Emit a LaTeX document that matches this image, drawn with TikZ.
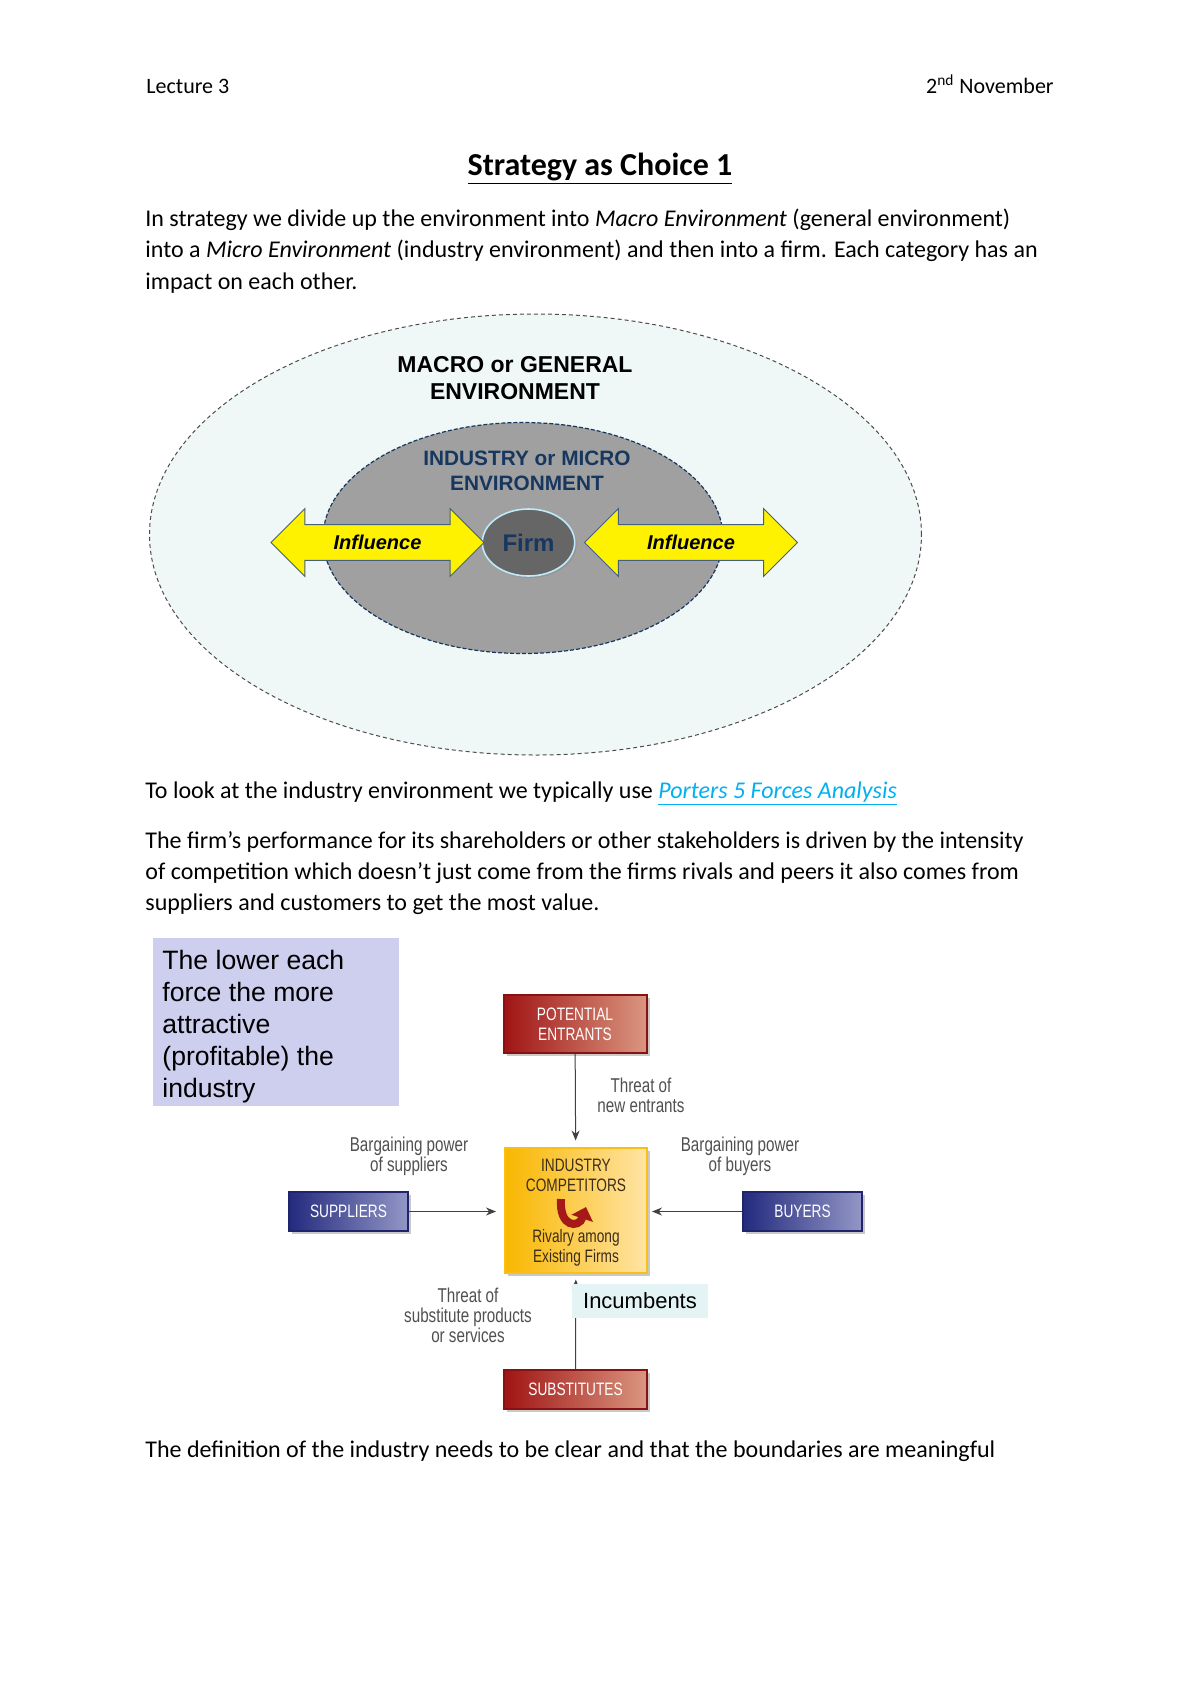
\documentclass[tikz,border=0pt]{standalone}
\usepackage{fontspec}
\setmainfont{Carlito}
\newfontfamily\arialfont{Liberation Sans}
\newfontfamily\condfont[FakeStretch=0.76]{Liberation Sans}
\usetikzlibrary{arrows.meta, shapes.geometric, shapes.arrows, shadows, positioning}

\definecolor{macrofill}{RGB}{240,248,247}
\definecolor{microfill}{RGB}{160,160,160}
\definecolor{microblue}{RGB}{23,55,94}
\definecolor{firmgray}{RGB}{102,102,102}
\definecolor{linkblue}{RGB}{0,176,240}
\definecolor{lavender}{RGB}{206,206,239}
\definecolor{entdark}{RGB}{160,20,20}
\definecolor{entlight}{RGB}{218,150,128}
\definecolor{supdark}{RGB}{36,42,126}
\definecolor{suplight}{RGB}{146,150,198}
\definecolor{inddark}{RGB}{249,183,0}
\definecolor{indlight}{RGB}{255,228,165}
\definecolor{indtext}{RGB}{60,45,25}
\definecolor{incfill}{RGB}{228,243,243}
\definecolor{labelgray}{RGB}{80,80,80}
\definecolor{swirlred}{RGB}{165,25,25}

\tikzset{
  bodytext/.style={anchor=base west, inner sep=0pt, font=\fontsize{12}{15}\selectfont},
  porterbox/.style={align=center, inner sep=0pt, font=\condfont\fontsize{9}{10}\selectfont,
    drop shadow={shadow xshift=1.5pt, shadow yshift=-1.5pt, opacity=.35, fill=black!60}},
  redbox/.style={porterbox, left color=entdark, right color=entlight, draw=entdark!85!black, line width=1pt, text=white},
  bluebox/.style={porterbox, left color=supdark, right color=suplight, draw=supdark!85!black, line width=1pt, text=white,
    minimum width=59.5pt, minimum height=19.5pt},
  rivaltext/.style={align=center, inner sep=0pt, text=indtext, font=\condfont\fontsize{9}{10}\selectfont},
  forcelabel/.style={align=center, inner sep=0pt, text=labelgray, font=\condfont\fontsize{10}{10}\selectfont},
  force/.style={->, draw=black!75, line width=0.5pt},
  influence/.style={double arrow, draw=microblue!80, fill=yellow, line width=0.5pt,
    minimum height=106.5pt, minimum width=33.5pt, double arrow head extend=8pt, inner xsep=0pt, inner ysep=5pt,
    font=\arialfont\bfseries\itshape\fontsize{10}{12}\selectfont}
}

\begin{document}
\begin{tikzpicture}[x=0.5pt, y=-0.5pt, >={Stealth[length=5pt, width=4pt]}]
  \fill[white] (0,0) rectangle (1200,1698);
  \useasboundingbox (0,0) rectangle (1200,1698);

  % header and title
  \node[anchor=base west, inner sep=0pt, font=\fontsize{11}{13}\selectfont] (lecture) at (146,93) {Lecture 3};
  \node[anchor=base east, inner sep=0pt, font=\fontsize{11}{13}\selectfont] (date) at (1054,93) {2\textsuperscript{nd} November};
  \node[anchor=base, inner sep=0pt, font=\bfseries\fontsize{16}{19}\selectfont] (title) at (600,175) {\underline{Strategy as Choice 1}};

  \node[bodytext] (introa) at (145,226) {In strategy we divide up the environment into \textit{Macro Environment} (general environment)};
  \node[bodytext] (introb) at (145,257.5) {into a \textit{Micro Environment} (industry environment) and then into a firm. Each category has an};
  \node[bodytext] (introc) at (145,289) {impact on each other.};

  % environment ellipses
  \node[ellipse, draw=black!70, dash pattern=on 2pt off 1.5pt, line width=0.5pt, fill=macrofill,
    minimum width=386pt, minimum height=220.5pt] (macro) at (535.5,534.5) {};
  \node[ellipse, draw=microblue, dash pattern=on 2pt off 1pt, line width=0.6pt, fill=microfill,
    minimum width=200pt, minimum height=115.5pt] (micro) at (523,538) {};
  \node[align=center, inner sep=0pt, font=\arialfont\bfseries\fontsize{11.5}{13.5}\selectfont] (macrolbl) at (515,378.5)
    {MACRO or GENERAL\\ENVIRONMENT};
  \node[align=center, inner sep=0pt, text=microblue, font=\arialfont\bfseries\fontsize{10.4}{12.5}\selectfont] (microlbl) at (527,470.5)
    {INDUSTRY or MICRO\\ENVIRONMENT};
  \node[ellipse, fill=firmgray, draw=cyan!25!white, line width=0.8pt, minimum width=40pt, minimum height=33.5pt,
    drop shadow={shadow xshift=1pt, shadow yshift=-1pt, opacity=.3}, text=microblue,
    font=\arialfont\bfseries\fontsize{12}{14}\selectfont] (firm) at (528.5,542.5) {Firm};
  \node[influence] (inflL) at (377.5,542.5) {Influence};
  \node[influence] (inflR) at (691,542.5) {Influence};

  \node[bodytext] (porter) at (145,798) {To look at the industry environment we typically use
    \textcolor{linkblue}{\underline{\textit{Porters 5 Forces Analysis}}}};
  \node[bodytext] (perfa) at (145,848) {The firm’s performance for its shareholders or other stakeholders is driven by the intensity};
  \node[bodytext] (perfb) at (145,879) {of competition which doesn’t just come from the firms rivals and peers it also comes from};
  \node[bodytext] (perfc) at (145,910) {suppliers and customers to get the most value.};

  % five forces
  \node[fill=lavender, minimum width=123pt, minimum height=84pt, inner sep=0pt] (lowerbox) at (276,1022) {};
  \node[anchor=north west, align=left, inner sep=0pt, font=\arialfont\fontsize{13.3}{16}\selectfont] (lowertxt) at (162,950)
    {The lower each\\force the more\\attractive\\(profitable) the\\industry};

  \node[redbox, minimum width=71.5pt, minimum height=29pt] (entrants) at (575,1024) {POTENTIAL\\ENTRANTS};
  \node[porterbox, left color=inddark, right color=indlight, draw=inddark!90!white, line width=1pt,
    minimum width=71pt, minimum height=62.5pt] (industry) at (576,1210) {};
  \node[rivaltext] (indtop) at (576,1175) {INDUSTRY\\COMPETITORS};
  \node[rivaltext] (indbot) at (576,1247.5) {Rivalry among\\Existing Firms};
  \coordinate (swirlstart) at (561,1199);
  \coordinate (swirlend) at (586,1207);
  \draw[swirlred, line width=4pt, -{Triangle[length=6pt, width=11pt]}]
    (swirlstart) .. controls (559,1228) and (579,1228) .. (swirlend);
  \node[bluebox] (suppliers) at (348.5,1211.5) {SUPPLIERS};
  \node[bluebox] (buyers) at (802.5,1211.5) {BUYERS};
  \node[redbox, minimum width=71.5pt, minimum height=19.5pt] (substitutes) at (575.5,1389.5) {SUBSTITUTES};

  \draw[force, shorten >=3pt] (entrants) -- (industry);
  \draw[force, shorten >=4pt] (suppliers) -- (suppliers -| industry.west);
  \draw[force, shorten >=2pt] (buyers) -- (buyers -| industry.east);
  \draw[force, shorten >=3pt] (substitutes) -- (industry);

  \node[forcelabel] (newlbl) at (641,1095.5) {Threat of\\new entrants};
  \node[forcelabel] (suplbl) at (409,1156.5) {Bargaining power\\of suppliers};
  \node[forcelabel] (buylbl) at (740,1156.5) {Bargaining power\\of buyers};
  \node[forcelabel] (sublbl) at (468,1315) {Threat of\\substitute products\\or services};
  \node[fill=incfill, minimum width=68pt, minimum height=17pt, inner sep=0pt,
    font=\arialfont\fontsize{11}{13}\selectfont] (incumbents) at (640,1301) {Incumbents};

  \node[bodytext] (boundary) at (145,1457) {The definition of the industry needs to be clear and that the boundaries are meaningful};
\end{tikzpicture}
\end{document}
